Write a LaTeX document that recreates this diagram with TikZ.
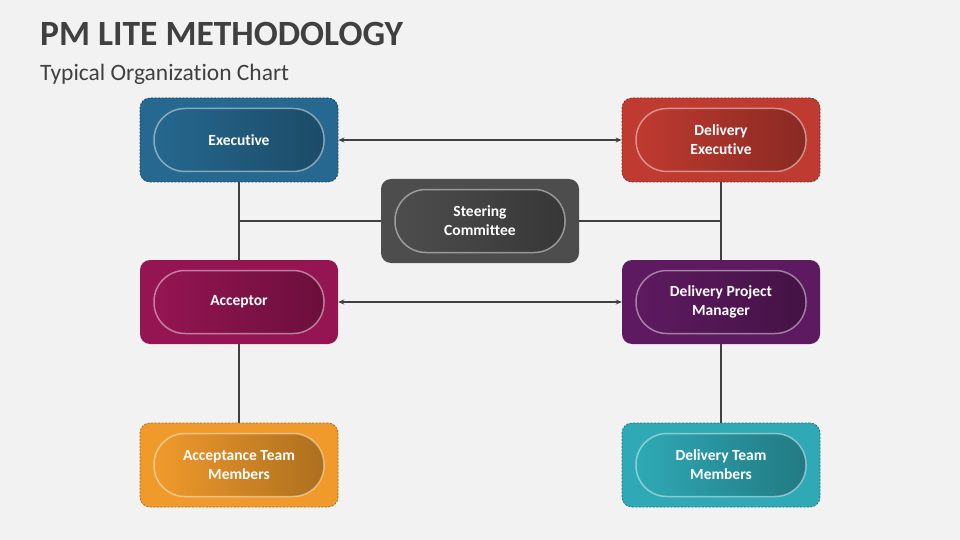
\documentclass[tikz,border=0pt]{standalone}
\usepackage{fontspec}
\setmainfont{Carlito}[Ligatures=NoCommon]
\usetikzlibrary{arrows.meta}
\definecolor{bgray}{HTML}{F2F2F2}
\definecolor{ink}{HTML}{404040}
\definecolor{cexec}{HTML}{26688F}
\definecolor{cdexec}{HTML}{BF3A30}
\definecolor{csteer}{HTML}{4D4D4D}
\definecolor{cacc}{HTML}{951553}
\definecolor{cdpm}{HTML}{5E1A60}
\definecolor{cteam}{HTML}{F09A2B}
\definecolor{cdteam}{HTML}{2FA9B5}
\begin{document}
\begin{tikzpicture}[x=1pt, y=-1pt, line join=round,
	outer/.style={rectangle, rounded corners=10pt, minimum width=198pt, minimum height=84pt, fill=#1},
	dashedge/.style={draw=#1!70!black, dash pattern=on 2pt off 1.5pt, line width=0.8pt},
	pill/.style={rectangle, rounded corners=31pt, minimum width=170pt, minimum height=63pt, left color=#1, right color=#1!72!black, draw=white, draw opacity=0.45, line width=1.5pt, text=white, align=center, font=\fontsize{15.5}{19}\selectfont\bfseries},
	link/.style={draw=ink, line width=1.5pt},
	twoway/.style={link, {Stealth[length=6pt,width=5pt]}-{Stealth[length=6pt,width=5pt]}}]
	\fill[bgray] (0,0) rectangle (960,540);
	\useasboundingbox (0,0) rectangle (960,540);
	\node[anchor=base west, inner sep=0pt, text=ink, font=\fontsize{35.5}{40}\selectfont\bfseries] (title) at (40,46) {PM LITE METHODOLOGY};
	\node[anchor=base west, inner sep=0pt, text=ink, font=\fontsize{23.5}{26}\selectfont] (subtitle) at (40,81) {Typical Organization Chart};
	% boxes
	\node[outer=cexec, dashedge=cexec] (exec) at (239,140) {};
	\node[outer=cdexec, dashedge=cdexec] (dexec) at (721,140) {};
	\node[outer=csteer] (steer) at (480,221) {};
	\node[outer=cacc] (acc) at (239,302) {};
	\node[outer=cdpm] (dpm) at (721,302) {};
	\node[outer=cteam, dashedge=cteam] (team) at (239,465) {};
	\node[outer=cdteam, dashedge=cdteam] (dteam) at (721,465) {};
	\node[pill=cexec] (execp) at (exec) {Executive};
	\node[pill=cdexec] (dexecp) at (dexec) {Delivery\\Executive};
	\node[pill=csteer] (steerp) at (steer) {Steering\\Committee};
	\node[pill=cacc] (accp) at (acc) {Acceptor};
	\node[pill=cdpm] (dpmp) at (dpm) {Delivery Project\\Manager};
	\node[pill=cteam] (teamp) at (team) {Acceptance Team\\Members};
	\node[pill=cdteam] (dteamp) at (dteam) {Delivery Team\\Members};
	% connectors
	\draw[link] (exec.south) -- (acc.north);
	\draw[link] (acc.south) -- (team.north);
	\draw[link] (dexec.south) -- (dpm.north);
	\draw[link] (dpm.south) -- (dteam.north);
	\draw[link] (steer.west) -- (steer.west -| exec.south);
	\draw[link] (steer.east) -- (steer.east -| dexec.south);
	\draw[twoway] (exec.east) -- (dexec.west);
	\draw[twoway] (acc.east) -- (dpm.west);
\end{tikzpicture}
\end{document}
